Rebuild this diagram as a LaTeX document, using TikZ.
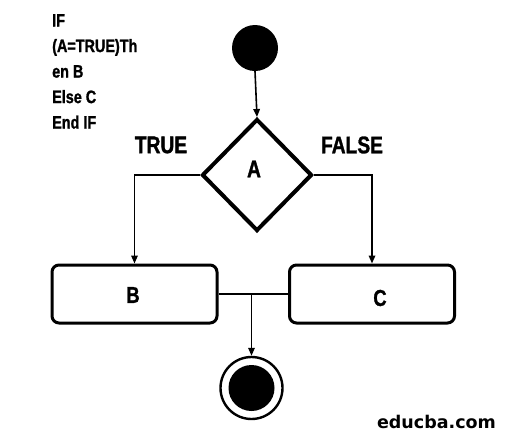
\documentclass[tikz,border=0pt]{standalone}
\usepackage{fontspec}
\newfontfamily\cond[FakeStretch=0.8,FakeBold=1.2]{Liberation Sans}
\newfontfamily\wmfont{DejaVu Sans}
\usetikzlibrary{arrows.meta,shapes.geometric}
\begin{document}
\begin{tikzpicture}[x=1pt,y=-1pt,
  lbl/.style={font=\cond\bfseries\fontsize{24}{24}\selectfont, inner sep=0pt},
  box/.style={draw, line width=3pt, rounded corners=7pt, minimum width=165pt, minimum height=58pt, inner sep=0pt},
  conn/.style={line width=1.6pt},
  arr/.style={conn, -{Triangle[width=6.5pt,length=8pt]}}
]
\useasboundingbox (0,0) rectangle (506,440);
% code text
\node[anchor=north west, align=left, inner sep=0pt, font=\cond\bfseries\fontsize{18}{25.5}\selectfont] (code) at (52,14)
  {IF\\(A=TRUE)Th\\en B\\Else C\\End IF};
% start
\node[circle, fill=black, minimum size=46pt, inner sep=0pt] (start) at (255,48) {};
% decision
\node[diamond, draw, line width=4pt, minimum width=110pt, minimum height=112pt, inner sep=0pt] (A) at (257,175) {};
\node[lbl] (Alab) at (254,169) {A};
\node[lbl] (T) at (161,145) {TRUE};
\node[lbl] (F) at (352,145) {FALSE};
% boxes
\node[box] (B) at (134.5,294) {};
\node[box] (C) at (372,294) {};
\node[lbl, font=\cond\bfseries\fontsize{23}{23}\selectfont] (Blab) at (133,295) {B};
\node[lbl, font=\cond\bfseries\fontsize{23}{23}\selectfont] (Clab) at (380,298) {C};
% end
\node[circle, draw, line width=2.4pt, minimum size=62pt, inner sep=0pt] (end) at (251.5,388) {};
\node[circle, fill=black, minimum size=46pt, inner sep=0pt] (endin) at (251.5,388) {};
% connectors
\draw[arr] (start.south) -- (A.north);
\draw[arr] (A.west) -| (B.north);
\draw[arr] (A.east) -| (C.north);
\coordinate (J) at (251.5,294);
\draw[conn] (B.east) -- (C.west);
\draw[arr] (J) -- (end.north);
% watermark
\node[font=\wmfont\bfseries\fontsize{17.5}{17.5}\selectfont, inner sep=0pt] (wm) at (436.5,422) {educba.com};
\end{tikzpicture}
\end{document}
